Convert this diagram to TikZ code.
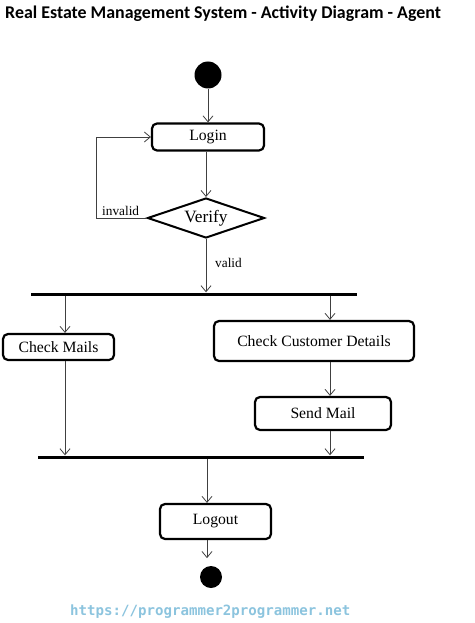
\documentclass[tikz,border=0pt]{standalone}
\usepackage{fontspec}
\setmainfont{Liberation Serif}
\newfontfamily\titlefont{Carlito}
\newfontfamily\urlfont{DejaVu Sans Mono}
\usetikzlibrary{shapes.geometric,arrows.meta}
\definecolor{linegray}{HTML}{404040}
\definecolor{urlblue}{HTML}{8CC4DE}
\tikzset{
  act/.style={draw=black, line width=2.2pt, rounded corners=5pt, inner sep=0pt, font=\fontsize{15.7}{18}\selectfont},
  arr/.style={draw=linegray, line width=0.9pt, -{Straight Barb[length=6pt,width=10pt,line width=0.8pt]}},
  bar/.style={fill=black, inner sep=0pt, minimum height=3pt},
  blob/.style={circle, fill=black, inner sep=0pt},
  lbl/.style={font=\fontsize{13.3}{15}\selectfont, inner sep=0pt}
}
\begin{document}
\begin{tikzpicture}[x=1pt,y=-1pt]
\useasboundingbox (0,0) rectangle (474,623);
\node[anchor=west, font=\titlefont\bfseries\fontsize{17.9}{20}\selectfont, inner sep=0pt] (title) at (5,14) {Real Estate Management System - Activity Diagram - Agent};
\node[blob, minimum size=27pt] (start) at (208,75) {};
\node[act, minimum width=112pt, minimum height=27pt] (login) at (208,137) {Login};
\node[draw=black, line width=2pt, diamond, aspect=2.9, minimum width=117pt, minimum height=40pt, inner sep=0pt, font=\fontsize{17.3}{19}\selectfont] (verify) at (206,218) {Verify};
\node[bar, minimum width=326pt] (fork) at (194,294) {};
\node[act, minimum width=111pt, minimum height=26pt] (mails) at (58.5,347) {Check Mails};
\node[act, minimum width=200pt, minimum height=40pt] (cust) at (314,341) {Check Customer Details};
\node[act, minimum width=136pt, minimum height=33pt] (send) at (323,413.5) {Send Mail};
\node[bar, minimum width=326pt] (join) at (201,457) {};
\node[act, minimum width=111pt, minimum height=35pt] (logout) at (215.5,521.5) {Logout};
\node[blob, minimum size=22pt] (stop) at (211,577) {};
\node[anchor=west, font=\urlfont\bfseries\fontsize{14.1}{16}\selectfont, text=urlblue, inner sep=0pt] (url) at (70,612) {https://programmer2programmer.net};

\draw[arr] (start.south) -- (login.north -| start.south);
\draw[arr] (login.south -| verify.north) -- (verify.north);
\draw[arr] (verify.west) -- ++(-50,0) |- (login.west);
\node[lbl, anchor=west] (invalidlbl) at (102,211) {invalid};
\draw[arr] (verify.south) -- (fork.north -| verify.south);
\node[lbl, anchor=west] (validlbl) at (215,263) {valid};
\draw[arr] ([xshift=6.5pt]mails.north |- fork.south) -- ([xshift=6.5pt]mails.north);
\draw[arr] ([xshift=16pt]cust.north |- fork.south) -- ([xshift=16pt]cust.north);
\draw[arr] ([xshift=16pt]cust.south) -- ([xshift=16pt]cust.south |- send.north);
\draw[arr] ([xshift=6.5pt]mails.south) -- ([xshift=6.5pt]mails.south |- join.north);
\draw[arr] ([xshift=16pt]cust.south |- send.south) -- ([xshift=16pt]cust.south |- join.north);
\draw[arr] ([xshift=-8.5pt]logout.north |- join.south) -- ([xshift=-8.5pt]logout.north);
\draw[arr] ([xshift=-8.5pt]logout.south) -- ([xshift=-8.5pt,yshift=-18pt]logout.south);
\end{tikzpicture}
\end{document}
